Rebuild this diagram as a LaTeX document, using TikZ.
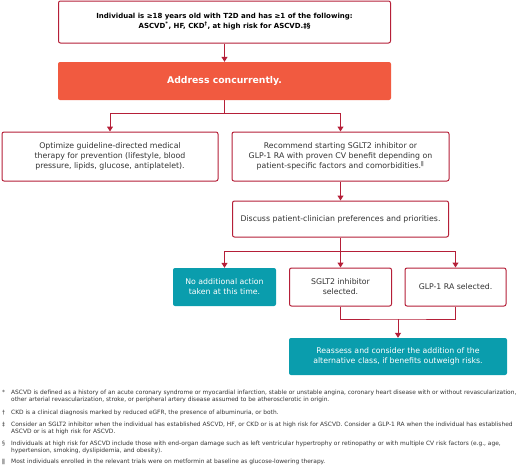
\documentclass[tikz,border=0pt]{standalone}
\usepackage{fontspec}
\setmainfont{DejaVu Sans}
\usetikzlibrary{arrows.meta}
\definecolor{boxred}{HTML}{B51F38}
\definecolor{addrorange}{HTML}{F15A40}
\definecolor{actteal}{HTML}{0A9DAD}
\definecolor{txtgray}{HTML}{333333}
\begin{document}
\begin{tikzpicture}[x=1pt, y=-1pt,
	every node/.style={text centered, inner sep=0pt},
	redbox/.style={rectangle, draw=boxred, line width=1pt, rounded corners=2pt, fill=white,
		text=txtgray, align=center, font=\fontsize{7.8}{10}\selectfont},
	tealbox/.style={rectangle, fill=actteal, rounded corners=2pt, text=white, align=center,
		font=\fontsize{7.8}{10}\selectfont},
	link/.style={draw=boxred, line width=1pt},
	arrowlink/.style={link, -{Triangle[width=6pt, length=5pt]}},
	note/.style={anchor=north west, align=left, text=txtgray, font=\fontsize{5.9}{7.5}\selectfont}]
	\useasboundingbox (0,0) rectangle (520,466);

	% boxes
	\node[redbox, minimum width=332pt, minimum height=42pt, text=black,
		font=\bfseries\fontsize{7}{10}\selectfont] (elig) at (224.5,22)
		{Individual is ≥18 years old with T2D and has ≥1 of the following:\\
		 ASCVD\textsuperscript{*}, HF, CKD\textsuperscript{†}, at high risk for ASCVD.‡§};
	\node[rectangle, fill=addrorange, rounded corners=2pt, minimum width=333pt, minimum height=38pt,
		text=white, font=\bfseries\fontsize{9.3}{12}\selectfont] (addr) at (224.5,81)
		{Address concurrently.};
	\node[redbox, minimum width=216pt, minimum height=49pt] (optim) at (110,156.5)
		{Optimize guideline-directed medical\\therapy for prevention (lifestyle, blood\\pressure, lipids, glucose, antiplatelet).};
	\node[redbox, minimum width=217pt, minimum height=49pt] (recom) at (340.5,156.5)
		{Recommend starting SGLT2 inhibitor or\\GLP-1 RA with proven CV benefit depending on\\patient-specific factors and comorbidities.\textsuperscript{ǁ}};
	\node[redbox, minimum width=216pt, minimum height=36pt] (disc) at (340.5,219)
		{Discuss patient-clinician preferences and priorities.};
	\node[tealbox, minimum width=103pt, minimum height=38pt] (noact) at (224.5,287)
		{No additional action\\taken at this time.};
	\node[redbox, minimum width=102pt, minimum height=38pt] (sglt) at (340.5,287)
		{SGLT2 inhibitor\\selected.};
	\node[redbox, minimum width=101pt, minimum height=38pt] (glp) at (455.5,287)
		{GLP-1 RA selected.};
	\node[tealbox, minimum width=218pt, minimum height=37pt] (reass) at (398,356.5)
		{Reassess and consider the addition of the\\alternative class, if benefits outweigh risks.};

	% connectors
	\coordinate (split) at (224.5,113);
	\coordinate (fork) at (340.5,251);
	\coordinate (merge) at (398,319);
	\draw[arrowlink] (elig.south) -- (addr.north);
	\draw[link] (addr.south) -- (split);
	\draw[arrowlink] (split) -| (optim.north);
	\draw[arrowlink] (split) -| (recom.north);
	\draw[arrowlink] (recom.south) -- (disc.north);
	\draw[link] (disc.south) -- (fork);
	\draw[arrowlink] (fork) -| (noact.north);
	\draw[arrowlink] (fork) -- (sglt.north);
	\draw[arrowlink] (fork) -| (glp.north);
	\draw[link] (sglt.south) |- (merge) -| (glp.south);
	\draw[arrowlink] (merge) -- (reass.north);

	% footnotes
	\node[note] (fnA) at (11,389.5)
		{ASCVD is defined as a history of an acute coronary syndrome or myocardial infarction, stable or unstable angina, coronary heart disease with or without revascularization,\\
		 other arterial revascularization, stroke, or peripheral artery disease assumed to be atherosclerotic in origin.};
	\node[note] (fnB) at (11,409.5)
		{CKD is a clinical diagnosis marked by reduced eGFR, the presence of albuminuria, or both.};
	\node[note] (fnC) at (11,421.5)
		{Consider an SGLT2 inhibitor when the individual has established ASCVD, HF, or CKD or is at high risk for ASCVD. Consider a GLP-1 RA when the individual has established\\
		 ASCVD or is at high risk for ASCVD.};
	\node[note] (fnD) at (11,440.5)
		{Individuals at high risk for ASCVD include those with end-organ damage such as left ventricular hypertrophy or retinopathy or with multiple CV risk factors (e.g., age,\\
		 hypertension, smoking, dyslipidemia, and obesity).};
	\node[note] (fnE) at (11,459)
		{Most individuals enrolled in the relevant trials were on metformin at baseline as glucose-lowering therapy.};
	\node[note] (mkA) at (2,389.5) {*};
	\node[note] (mkB) at (2,409.5) {†};
	\node[note] (mkC) at (2,421.5) {‡};
	\node[note] (mkD) at (2,440.5) {§};
	\node[note] (mkE) at (2,459) {ǁ};
\end{tikzpicture}
\end{document}
